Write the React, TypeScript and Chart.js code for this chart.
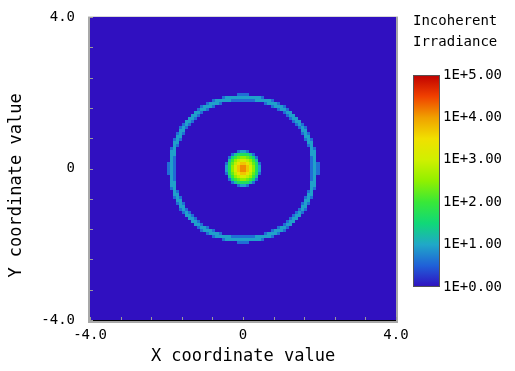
import React, { useEffect, useRef } from 'react';
import { Chart, registerables } from 'chart.js';
Chart.register(...registerables);

// ---- data ----
const gridSize = 100; // cells per side
const xRange = [-4, 4];
const yRange = [-4, 4];
const axisTicks = [-4, -3.2, -2.4, -1.6, -0.8, 0, 0.8, 1.6, 2.4, 3.2, 4];
const axisTickLabels: Record<string, string> = { '-4': '-4.0', '0': '0', '4': '4.0' };
// radial irradiance profile: outer radius of each band and log10(irradiance)
const radialEdges = [0.08, 0.14, 0.18, 0.215, 0.245, 0.29, 0.32, 0.36, 0.39, 0.41, 0.43, 0.455, 0.48, 1.80, 1.835, 1.94, 1.97];
const radialLog = [4.1, 3.7, 3.4, 3.1, 2.85, 2.5, 2.25, 2.0, 1.7, 1.5, 1.25, 0.95, 0.6, 0, 0.6, 0.95, 0.6];
const colorbarTicks = [0, 1, 2, 3, 4, 5];
const colorbarLabels = ['1E+0.00', '1E+1.00', '1E+2.00', '1E+3.00', '1E+4.00', '1E+5.00'];
const colorbarTitle = ['Incoherent', 'Irradiance'];
const xTitle = 'X coordinate value';
const yTitle = 'Y coordinate value';
// colour map
const colorStops = [0, 0.5, 1, 1.5, 2, 2.5, 3, 3.5, 4, 4.5, 5];
const colorHex = ['#3010c0', '#2060d8', '#20a8c8', '#10d878', '#38e838', '#90f000', '#d0f000', '#f0e000', '#f0a000', '#f04000', '#c00000'];

const MONO = '"DejaVu Sans Mono", monospace';

function hexToRgb(h: string) {
  return [parseInt(h.slice(1, 3), 16), parseInt(h.slice(3, 5), 16), parseInt(h.slice(5, 7), 16)];
}
function colorFor(v: number) {
  if (v <= colorStops[0]) return colorHex[0];
  for (let k = 1; k < colorStops.length; k++) {
    if (v <= colorStops[k]) {
      const t = (v - colorStops[k - 1]) / (colorStops[k] - colorStops[k - 1]);
      const a = hexToRgb(colorHex[k - 1]);
      const b = hexToRgb(colorHex[k]);
      const c = a.map((q, i) => Math.round(q + (b[i] - q) * t));
      return `rgb(${c[0]},${c[1]},${c[2]})`;
    }
  }
  return colorHex[colorHex.length - 1];
}

function buildCells() {
  const cw = (xRange[1] - xRange[0]) / gridSize;
  const ch = (yRange[1] - yRange[0]) / gridSize;
  const cells: { x: number; y: number; v: number }[] = [];
  for (let i = 0; i < gridSize; i++) {
    for (let j = 0; j < gridSize; j++) {
      const x = xRange[0] + (i + 0.5) * cw;
      const y = yRange[0] + (j + 0.5) * ch;
      const r = Math.hypot(x, y);
      let v = 0;
      for (let k = 0; k < radialEdges.length; k++) {
        if (r <= radialEdges[k]) { v = radialLog[k]; break; }
      }
      cells.push({ x, y, v });
    }
  }
  return { cells, cw, ch };
}

const heatmapPlugin = {
  id: 'heatmap',
  beforeDatasetsDraw(chart: any) {
    const { ctx, chartArea, scales } = chart;
    const xs = scales.x, ys = scales.y, cb = scales.cb;
    const ds = chart.data.datasets[0];
    const cw = ds.cellW, ch = ds.cellH;
    ctx.save();
    for (const c of ds.data) {
      const x0 = Math.round(xs.getPixelForValue(c.x - cw / 2));
      const x1 = Math.round(xs.getPixelForValue(c.x + cw / 2));
      const y0 = Math.round(ys.getPixelForValue(c.y + ch / 2));
      const y1 = Math.round(ys.getPixelForValue(c.y - ch / 2));
      ctx.fillStyle = colorFor(c.v);
      ctx.fillRect(x0, y0, x1 - x0, y1 - y0);
    }
    // frame
    const { left, right, top, bottom } = chartArea;
    ctx.fillStyle = '#a8a8a8';
    ctx.fillRect(left - 2, top, 2, bottom - top + 2);
    ctx.fillRect(left - 2, bottom + 1, right - left + 4, 2);
    ctx.fillRect(right, top, 2, bottom - top + 2);
    ctx.fillStyle = '#d8d8d8';
    ctx.fillRect(left - 2, top - 1, right - left + 4, 1);
    ctx.fillStyle = '#000';
    ctx.fillRect(left, bottom, right - left, 1);
    // inner tick marks
    ctx.strokeStyle = '#9a9a9a';
    ctx.lineWidth = 1;
    for (const t of axisTicks) {
      const px = Math.round(xs.getPixelForValue(t)) + 0.5;
      ctx.beginPath(); ctx.moveTo(px, bottom); ctx.lineTo(px, bottom - 3); ctx.stroke();
      const py = Math.round(ys.getPixelForValue(t)) + 0.5;
      ctx.beginPath(); ctx.moveTo(left, py); ctx.lineTo(left + 3, py); ctx.stroke();
    }
    // colour bar
    const bx = right + 17, bw = 27;
    const yTop = cb.getPixelForValue(colorbarTicks[colorbarTicks.length - 1]);
    const yBot = cb.getPixelForValue(colorbarTicks[0]);
    const g = ctx.createLinearGradient(0, yBot, 0, yTop);
    colorStops.forEach((s, k) => g.addColorStop((s - colorStops[0]) / (colorStops[colorStops.length - 1] - colorStops[0]), colorHex[k]));
    ctx.fillStyle = g;
    ctx.fillRect(bx, yTop, bw, yBot - yTop);
    ctx.strokeStyle = '#555';
    ctx.strokeRect(bx + 0.5, yTop + 0.5, bw - 1, yBot - yTop - 1);
    // titles
    ctx.fillStyle = '#000';
    ctx.font = `14px ${MONO}`;
    ctx.textAlign = 'left';
    ctx.textBaseline = 'middle';
    ctx.fillText(colorbarTitle[0], bx, 21);
    ctx.fillText(colorbarTitle[1], bx, 42);
    ctx.font = `17px ${MONO}`;
    ctx.textAlign = 'center';
    ctx.fillText(xTitle, (left + right) / 2, 357);
    ctx.save();
    ctx.translate(17, chart.height / 2);
    ctx.rotate(-Math.PI / 2);
    ctx.fillText(yTitle, 0, 0);
    ctx.restore();
    ctx.restore();
  },
};

export default function App() {
  const ref = useRef<HTMLCanvasElement>(null);
  useEffect(() => {
    document.body.style.margin = '0';
    const { cells, cw, ch } = buildCells();
    const tickFont = { family: MONO, size: 14 };
    const chart = new Chart(ref.current!, {
      type: 'scatter',
      data: {
        datasets: [{ data: cells, pointRadius: 0, cellW: cw, cellH: ch } as any],
      },
      options: {
        animation: false,
        responsive: false,
        events: [],
        layout: { padding: { top: 17, left: 0, right: 0, bottom: 0 } },
        plugins: { legend: { display: false }, tooltip: { enabled: false } },
        scales: {
          x: {
            type: 'linear', min: xRange[0], max: xRange[1],
            grid: { display: false }, border: { display: false },
            afterBuildTicks: (s: any) => { s.ticks = axisTicks.map((v) => ({ value: v })); },
            afterFit: (s: any) => { s.height = 51; },
            ticks: { font: tickFont, color: '#000', padding: -1, maxRotation: 0, autoSkip: false,
              callback: (v: any) => axisTickLabels[String(v)] ?? '' },
          },
          y: {
            type: 'linear', min: yRange[0], max: yRange[1],
            grid: { display: false }, border: { display: false },
            afterBuildTicks: (s: any) => { s.ticks = axisTicks.map((v) => ({ value: v })); },
            afterFit: (s: any) => { s.width = 90; s.paddingTop = 0; s.paddingBottom = 0; },
            ticks: { font: tickFont, color: '#000', padding: 7, autoSkip: false,
              callback: (v: any) => axisTickLabels[String(v)] ?? '' },
          },
          cb: {
            type: 'linear', position: 'right', min: -0.78, max: 6.37,
            grid: { display: true, drawOnChartArea: false, drawTicks: true, tickLength: 44, color: 'rgba(0,0,0,0)' },
            border: { display: false },
            afterBuildTicks: (s: any) => { s.ticks = colorbarTicks.map((v) => ({ value: v })); },
            afterFit: (s: any) => { s.width = 119; s.paddingTop = 0; s.paddingBottom = 0; },
            ticks: { font: tickFont, color: '#000', padding: 3, autoSkip: false,
              callback: (v: any) => colorbarLabels[colorbarTicks.indexOf(Number(v))] ?? '' },
          },
        },
      } as any,
      plugins: [heatmapPlugin],
    });
    return () => chart.destroy();
  }, []);
  return (
    <div style={{ width: 515, height: 371 }}>
      <canvas ref={ref} width={515} height={371} />
    </div>
  );
}
